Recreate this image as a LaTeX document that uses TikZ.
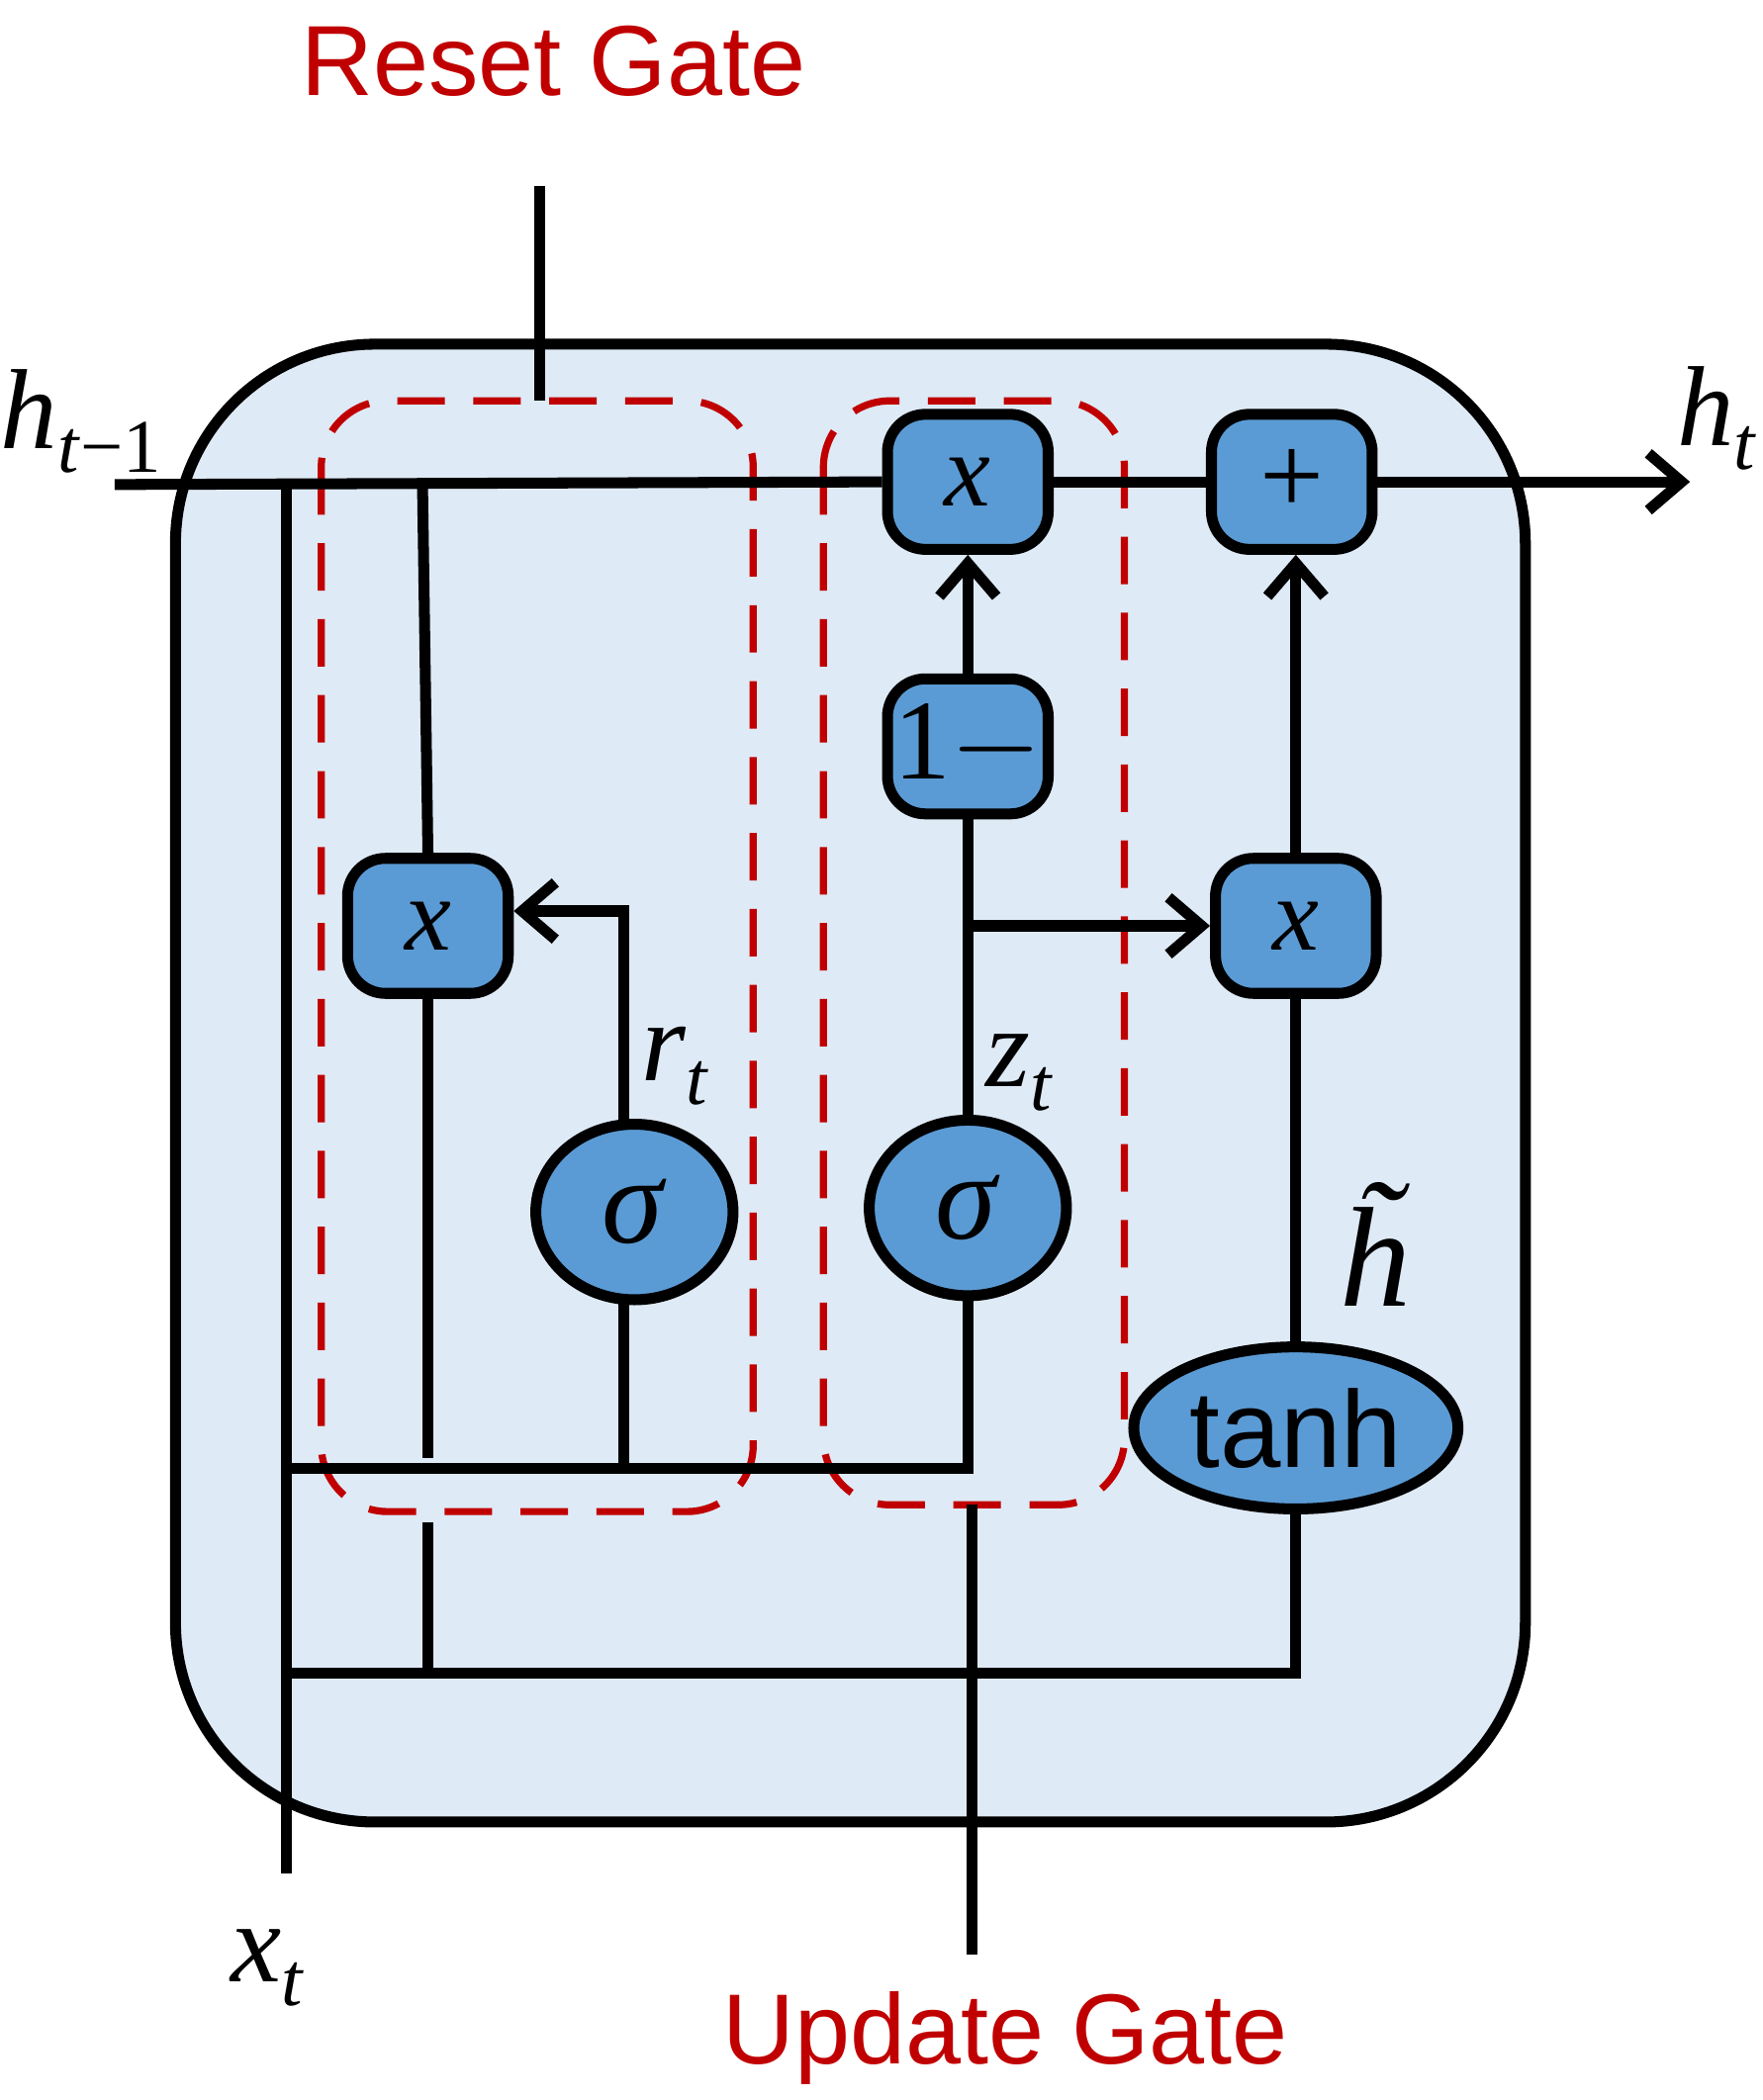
\documentclass[tikz,border=0pt]{standalone}
\usepackage{fontspec}
\setmainfont{Liberation Serif}
\newfontfamily\arialf{Liberation Sans}
\usetikzlibrary{arrows.meta,shapes.geometric}
\definecolor{cellbg}{RGB}{222,234,246}
\definecolor{opbl}{RGB}{91,155,213}
\definecolor{gred}{RGB}{192,0,0}
\newcommand{\isub}[2]{\textit{#1}\raisebox{-0.45ex}{\fontsize{16}{16}\selectfont #2}}
\begin{document}
\begin{tikzpicture}[x=0.01cm,y=-0.01cm,
  wire/.style={line width=2.3pt},
  arr/.style={wire,-{Straight Barb[length=7pt,width=12pt,line width=2.3pt]}},
  op/.style={draw,line width=2.3pt,fill=opbl,rounded corners=8pt,minimum width=1.19cm,minimum height=1cm,inner sep=0pt,font=\fontsize{22}{22}\selectfont\itshape},
  sig/.style={draw,line width=2.3pt,fill=opbl,ellipse,minimum width=1.46cm,minimum height=1.3cm,inner sep=0pt,font=\fontsize{26}{26}\selectfont},
  gate/.style={draw=gred,line width=1.5pt,dash pattern=on 10pt off 6pt,rounded corners=14pt},
  glab/.style={text=gred,font=\arialf\fontsize{21}{21}\selectfont},
  lab/.style={font=\fontsize{24}{24}\selectfont,inner sep=1pt}]
\useasboundingbox (0,0) rectangle (1306,1556);
\draw[line width=2.3pt,fill=cellbg,rounded corners=42pt] (130,255) rectangle (1130,1350);
% gates
\draw[gate] (238,297) rectangle (558,1120);
\draw[gate] (610,297) rectangle (833,1115);
% nodes
\node[op] (mt) at (717,357) {x};
\node[op,font=\fontsize{24}{24}\selectfont] (pl) at (957,357) {+};
\node[op,font=\fontsize{24}{24}\selectfont] (om) at (717,553) {1$-$};
\node[op] (ml) at (317,686) {x};
\node[op] (mr) at (960,686) {x};
\node[sig] (s1) at (470,898) {\textit{σ}};
\node[sig] (s2) at (717,895) {\textit{σ}};
\node[draw,line width=2.3pt,fill=opbl,ellipse,minimum width=2.4cm,minimum height=1.2cm,inner sep=0pt,font=\arialf\fontsize{23}{23}\selectfont] (th) at (960,1058) {tanh};
% coordinates
\coordinate (hin) at (85,359);
\coordinate (hout) at (1252,357);
\coordinate (xb) at (212,1388);
\coordinate (xtop) at (212,360);
\coordinate (hl) at (313,359);
\coordinate (rg1) at (400,138);
\coordinate (rg2) at (400,297);
\coordinate (ug1) at (720,1115);
\coordinate (ug2) at (720,1448);
% wires
\draw[wire] (hin) -- (mt.west);
\draw[wire] (mt.east) -- (pl.west);
\draw[arr] (pl.east) -- (hout);
\draw[wire] (xb) -- (xtop);
\draw[wire] (hl) -- (ml.north);
\draw[wire] (ml.south) -- (317,1080);
\draw[wire] (317,1128) -- (317,1240);
\draw[wire] (212,1088) -- (s2.south|-212,1088) -- (s2.south);
\draw[wire] (462,1088) -- (462,962);
\draw[arr] (462,833) -- (462,675) -- (ml.east|-462,675);
\draw[wire] (s2.north) -- (om.south);
\draw[arr] (717,686) -- (mr.west);
\draw[arr] (om.north) -- (mt.south);
\draw[arr] (mr.north) -- (pl.south-|mr.north);
\draw[wire] (th.north) -- (mr.south);
\draw[wire] (th.south) -- (th.south|-212,1240) -- (212,1240);
\draw[wire] (rg1) -- (rg2);
\draw[wire] (ug1) -- (ug2);
% labels
\node[glab] (rl) at (410,45) {Reset Gate};
\node[glab] (ul) at (745,1510) {Update Gate};
\node[lab] (lh1) at (60,312) {\isub{h}{\textit{t}−1}};
\node[lab] (lh2) at (1272,310) {\isub{h}{\textit{t}}};
\node[lab] (lx) at (198,1458) {\isub{x}{\textit{t}}};
\node[lab] (lr) at (500,790) {\isub{r}{\textit{t}}};
\node[lab] (lz) at (755,795) {\isub{z}{\textit{t}}};
\node[lab,font=\fontsize{30}{30}\selectfont] (lht) at (1040,922) {\textit{h̃}};
\end{tikzpicture}
\end{document}
